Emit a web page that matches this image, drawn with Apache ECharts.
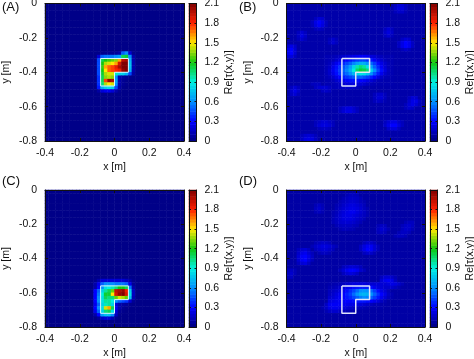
<!DOCTYPE html>
<html><head><meta charset="utf-8">
<script src="https://cdn.jsdelivr.net/npm/echarts@6/dist/echarts.min.js"></script>
<style>html,body{margin:0;padding:0;background:#fff}#c{width:474px;height:359px;filter:blur(0.45px)}</style>
</head><body><div id="c"></div>
<script>
const xTickRange=[-0.4,0.4], yTickRange=[-0.8,0], colorRange=[0,2.1];
const gridCells=40;
const colorStops=['#00007f','#0000ff','#0090ff','#00f0e0','#10c810','#ffe800','#ff2000','#7f0000'];
const colorbarLevels=[.025,.075,.125,.175,.225,.275,.325,.375,.425,.475,.525,.575,.625,.675,.725,.775,.825,.875,.925,.975,1.025,1.075,1.125,1.175,1.225,1.275,1.325,1.375,1.425,1.475,1.525,1.575,1.625,1.675,1.725,1.775,1.825,1.875,1.925,1.975,2.025,2.075];
// Each row: [row from top, first column, cell values]
const backgroundA=.02, backgroundB=.1, backgroundC=.02, backgroundD=.09;
const rowsA=[
[14,15,[.02,.03,.04,.05,.05,.06,.1,.5,.6,.2,.03]],
[15,15,[.2,.5,.55,.55,.55,.6,.65,1.1,1.15,.6,.1]],
[16,15,[.45,1.1,1.2,1.25,1.3,1.35,1.6,1.95,2.0,.7,.1]],
[17,15,[.45,1.2,1.4,1.45,1.5,1.6,1.9,2.1,2.1,.75,.1]],
[18,15,[.45,1.25,1.6,1.7,1.75,1.85,2.0,2.1,2.1,.75,.1]],
[19,15,[.45,1.2,1.5,1.7,1.75,1.8,1.85,2.05,2.1,.7,.1]],
[20,15,[.45,1.15,1.4,1.45,1.45,.95,.8,.8,.7,.45,.08]],
[21,15,[.4,1.1,1.35,1.4,1.35,.6,.1,.08,.05,.03,.02]],
[22,15,[.4,1.1,1.75,2.05,2.0,.65,.1,.05,.03]],
[23,15,[.4,1.05,1.4,1.5,1.45,.6,.1,.05,.03]],
[24,15,[.35,.7,.8,.85,.8,.45,.08,.03]],
[25,15,[.08,.2,.25,.25,.2,.1,.04]]];
const rowsC=[
[26,14,[.03,.1,.2,.2,.2,.2,.2,.2,.2,.15,.1,.03]],
[27,14,[.1,.25,.5,.6,.6,.6,.55,.55,.55,.5,.25,.05]],
[28,14,[.1,.3,.6,.85,.9,.95,1.05,1.2,1.2,1.1,.55,.1]],
[29,14,[.3,.5,.8,1.0,1.1,1.3,1.95,2.0,2.05,1.85,.8,.15]],
[30,14,[.3,.55,.9,1.15,1.15,1.5,1.9,2.05,2.1,1.9,.85,.15]],
[31,14,[.3,.6,.85,1.1,1.05,1.05,1.3,1.45,1.4,1.3,.75,.12]],
[32,14,[.3,.6,.85,1.0,1.0,.9,.6,.5,.45,.4,.2,.05]],
[33,14,[.25,.5,.8,.95,1.0,.8,.2,.1,.08,.06,.03,.02]],
[34,14,[.3,.6,.85,1.45,1.6,1.1,.25,.1,.05,.03]],
[35,14,[.25,.5,.8,1.05,1.1,.85,.2,.05,.03]],
[36,14,[.1,.3,.65,.75,.75,.6,.15,.03]],
[37,14,[.02,.06,.15,.2,.2,.12,.04]]];
const rowsB=[
[4,8,[.15,.2,.18]],[5,7,[.15,.24,.3,.24,.15]],[6,7,[.14,.22,.28,.22,.14]],[7,8,[.14,.16,.14]],
[8,3,[.15,.2,.15]],[9,3,[.16,.23,.17]],[10,3,[.14,.18,.14]],
[12,0,[.2,.24,.18]],[13,0,[.26,.3,.2]],[14,0,[.26,.3,.2]],[15,0,[.2,.22,.15]],
[10,33,[.16,.2,.18]],[11,32,[.16,.24,.3,.26,.16]],[12,32,[.16,.24,.3,.26,.16]],[13,33,[.14,.17,.14]],
[7,28,[.15,.2,.15]],[8,28,[.17,.22,.17]],[9,28,[.15,.19,.14]],
[0,31,[.15,.2,.2,.15]],[1,31,[.17,.22,.22,.16]],[2,31,[.14,.17,.17,.13]],
[10,12,[.14,.18,.14]],[11,12,[.15,.19,.15]],
[34,8,[.14,.17,.2,.2,.17,.14]],[35,8,[.15,.2,.22,.22,.2,.15]],[36,9,[.14,.16,.16,.14]],
[34,28,[.15,.2,.24,.24,.18,.14]],[35,28,[.17,.24,.3,.3,.22,.15]],[36,29,[.18,.22,.22,.16]],
[30,15,[.14,.18,.22,.22,.18,.14]],[31,15,[.15,.2,.24,.24,.2,.15]],
[38,4,[.14,.18,.2,.18,.14]],[39,4,[.16,.22,.24,.22,.16]],
[27,35,[.15,.2,.18]],[28,35,[.18,.24,.24,.16]],[29,34,[.14,.2,.24,.2,.14]],[30,34,[.14,.18,.16]],
[24,1,[.15,.2,.15]],[25,1,[.18,.24,.18]],[26,1,[.16,.2,.14]],
[26,25,[.14,.18,.18,.14]],[27,25,[.15,.2,.2,.15]],[28,25,[.14,.17,.15,.12]],
[23,7,[.14,.15,.15]],[24,8,[.16,.19,.2,.19,.16]],[25,10,[.15,.17,.15]],
[15,11,[.12,.12,.13,.14,.16,.18,.2,.22,.24,.26,.28,.28,.26,.22,.2,.16,.14,.12,.12,.12]],
[16,11,[.12,.13,.14,.18,.22,.26,.3,.34,.38,.42,.44,.44,.4,.34,.28,.22,.18,.14,.12,.12]],
[17,11,[.12,.14,.2,.26,.32,.38,.44,.5,.58,.66,.7,.7,.62,.52,.42,.32,.24,.18,.14,.12]],
[18,11,[.13,.16,.24,.32,.4,.46,.54,.64,.8,.98,1.05,1.0,.85,.66,.5,.38,.28,.2,.14,.12]],
[19,11,[.13,.18,.26,.34,.42,.5,.58,.7,.88,1.08,1.15,1.12,1.05,.82,.6,.44,.32,.22,.15,.12]],
[20,11,[.13,.17,.24,.32,.4,.46,.52,.6,.72,.82,.86,.84,.76,.62,.48,.36,.26,.18,.14,.12]],
[21,11,[.12,.14,.18,.24,.3,.36,.4,.44,.48,.5,.5,.46,.42,.36,.3,.22,.16,.13,.12,.11]],
[22,11,[.12,.12,.14,.18,.22,.26,.3,.32,.33,.32,.3,.28,.24,.2,.16,.13,.12,.11,.11,.11]],
[23,11,[.12,.12,.13,.14,.16,.19,.21,.22,.23,.22,.2,.18,.15,.13,.12,.11,.11,.11,.11,.11]],
[24,13,[.13,.14,.15,.16,.17,.17,.16,.14,.13]]];
const rowsD=[
[1,17,[.13,.15,.15,.14]],[2,16,[.13,.15,.17,.17,.16,.13]],[3,15,[.13,.15,.17,.19,.19,.17,.14,.12]],
[4,14,[.12,.14,.17,.2,.22,.22,.2,.17,.14]],[5,14,[.13,.16,.19,.22,.24,.24,.22,.19,.15,.12]],
[6,13,[.12,.14,.18,.21,.24,.26,.26,.22,.19,.16,.12]],[7,13,[.12,.15,.19,.22,.24,.24,.22,.2,.17,.15,.12]],
[8,13,[.13,.16,.19,.22,.23,.23,.21,.18,.16,.13]],[9,13,[.13,.15,.18,.19,.2,.19,.18,.15,.13]],
[10,14,[.13,.15,.16,.16,.16,.14,.13]],[11,15,[.12,.14,.14,.13,.12]],
[17,3,[.14,.18,.2,.16]],[18,3,[.17,.24,.26,.2,.14]],[19,3,[.2,.28,.3,.24,.16]],[20,3,[.19,.27,.3,.22,.14]],[21,3,[.15,.2,.22,.16]],
[15,8,[.13,.15,.17,.16,.14]],[16,7,[.13,.17,.2,.22,.22,.2,.16,.13]],[17,8,[.15,.18,.2,.2,.17,.14]],[18,9,[.13,.15,.15,.13]],
[15,22,[.14,.17,.17,.14]],[16,21,[.15,.22,.27,.27,.2,.14]],[17,21,[.16,.24,.3,.28,.2,.14]],[18,22,[.15,.18,.17,.13]],
[22,16,[.14,.17,.2,.2,.18,.14]],[23,15,[.14,.2,.26,.3,.3,.26,.18,.14]],[24,16,[.15,.2,.22,.2,.16]],
[25,27,[.15,.2,.2,.17,.13]],[26,27,[.2,.26,.28,.24,.15]],
[10,26,[.13,.16,.15]],[11,26,[.15,.19,.17,.13]],[12,26,[.14,.16,.14]],
[9,34,[.13,.15,.15]],[10,33,[.14,.17,.18,.15]],[11,33,[.15,.18,.17,.13]],[12,32,[.13,.16,.16,.14]],[13,31,[.13,.15,.15,.13]],
[4,8,[.13,.16,.13]],[5,8,[.15,.18,.14]],[6,8,[.13,.15,.12]],
[23,0,[.14,.16,.13]],[24,0,[.16,.18,.13]],[25,0,[.14,.15]],
[27,12,[.1,.11,.12,.13,.15,.18,.2,.22,.22,.22,.22,.2,.2,.2,.2,.2,.2,.22,.24,.22,.18,.13]],
[28,12,[.12,.13,.15,.18,.22,.26,.28,.32,.34,.36,.36,.36,.32,.26,.22,.2,.18,.18,.18,.15,.12]],
[29,12,[.14,.16,.18,.22,.26,.32,.38,.44,.52,.6,.62,.6,.52,.42,.32,.24,.2,.14]],
[30,12,[.15,.18,.22,.26,.3,.36,.42,.52,.62,.7,.72,.7,.62,.5,.4,.3,.24,.16,.12]],
[31,12,[.18,.2,.24,.28,.3,.34,.38,.44,.5,.56,.6,.58,.5,.42,.34,.26,.2,.14,.11]],
[32,12,[.22,.24,.26,.28,.28,.3,.3,.32,.34,.34,.34,.32,.3,.26,.22,.16,.12]],
[33,11,[.16,.26,.28,.28,.28,.26,.26,.24,.24,.22,.2,.18,.16,.14,.12,.12,.1,.1]],
[34,10,[.12,.16,.24,.26,.26,.24,.22,.2,.18,.16,.14,.13,.12,.11,.1,.1,.1,.1]],
[35,11,[.12,.16,.18,.18,.16,.14,.13,.12,.11]]];
// Building outline, in metres
const outlineX=[-0.08,0.08,0.08,0,0,-0.08,-0.08];
const outlineYUpper=[-0.32,-0.32,-0.40,-0.40,-0.48,-0.48,-0.32];
const outlineYLower=[-0.56,-0.56,-0.64,-0.64,-0.72,-0.72,-0.56];
const panelNames=['(A)','(B)','(C)','(D)'];
const xAxisTitle='x [m]', yAxisTitle='y [m]', colorbarTitle='Re[τ(x,y)]';

const font='"Liberation Sans",Arial,sans-serif', fs=10.5, black='#111';
const layout=[
 {left:45,top:3.5,w:139,h:137.5,cb:189,label:[2,1]},
 {left:286.5,top:3.5,w:138.5,h:137.5,cb:430,label:[239,1]},
 {left:45,top:190,w:139,h:137,cb:189,label:[2,175]},
 {left:286.5,top:190,w:138.5,h:137,cb:430,label:[239,175]}];
const sources=[[rowsA,backgroundA,outlineYUpper],[rowsB,backgroundB,outlineYUpper],[rowsC,backgroundC,outlineYLower],[rowsD,backgroundD,outlineYLower]];
const cellIdx=[]; for(let i=0;i<gridCells;i++) cellIdx.push(String(i));
const levelIdx=colorbarLevels.map((_,i)=>String(i));

function toCells(rows,bg){
  const m=[]; for(let r=0;r<gridCells;r++){m.push(new Array(gridCells).fill(bg));}
  rows.forEach(([r,c,vals])=>vals.forEach((v,i)=>{m[r][c+i]=v;}));
  const out=[]; m.forEach((row,r)=>row.forEach((v,c)=>out.push([c,r,v])));
  return out;
}
const line={show:true,onZero:false,lineStyle:{color:black,width:1}};
const grid=[],xAxis=[],yAxis=[],series=[],graphic=[],hm=[];
layout.forEach((p,i)=>{
  const g=grid.length;
  grid.push({left:p.left,top:p.top,width:p.w,height:p.h,containLabel:false,outerBoundsMode:'none'});
  grid.push({left:p.cb,top:p.top,width:7.5,height:p.h,outerBoundsMode:'none'});
  const xv=xAxis.length;
  xAxis.push({gridIndex:g,type:'value',position:'bottom',min:xTickRange[0],max:xTickRange[1],interval:0.2,z:5,
    name:xAxisTitle,nameLocation:'middle',nameGap:21,nameTextStyle:{fontFamily:font,fontSize:fs,color:black},
    axisLine:line,axisTick:{show:true,inside:true,length:3,lineStyle:{color:black}},splitLine:{show:false},
    axisLabel:{fontFamily:font,fontSize:fs,color:black,margin:7,hideOverlap:false,showMinLabel:true,showMaxLabel:true}});
  xAxis.push({gridIndex:g,type:'category',position:'top',data:cellIdx,z:5,axisLine:line,
    axisTick:{show:true,inside:true,length:3,interval:9,lineStyle:{color:black}},axisLabel:{show:false},splitLine:{show:false}});
  const yv=yAxis.length;
  yAxis.push({gridIndex:g,type:'value',position:'left',min:yTickRange[0],max:yTickRange[1],interval:0.2,z:5,
    name:yAxisTitle,nameLocation:'middle',nameGap:33,nameTextStyle:{fontFamily:font,fontSize:fs,color:black},
    axisLine:line,axisTick:{show:true,inside:true,length:3,lineStyle:{color:black}},splitLine:{show:false},
    axisLabel:{fontFamily:font,fontSize:fs,color:black,margin:8,showMinLabel:true,showMaxLabel:true}});
  yAxis.push({gridIndex:g,type:'category',position:'right',inverse:true,data:cellIdx,z:5,axisLine:line,
    axisTick:{show:true,inside:true,length:3,interval:9,lineStyle:{color:black}},axisLabel:{show:false},splitLine:{show:false}});
  const xc=xAxis.length;
  xAxis.push({gridIndex:g+1,type:'category',position:'bottom',data:['0'],z:5,axisLine:line,axisTick:{show:false},axisLabel:{show:false},splitLine:{show:false}});
  xAxis.push({gridIndex:g+1,type:'category',position:'top',data:['0'],z:5,axisLine:line,axisTick:{show:false},axisLabel:{show:false},splitLine:{show:false}});
  const yc=yAxis.length;
  yAxis.push({gridIndex:g+1,type:'category',position:'left',data:levelIdx,z:5,axisLine:line,
    axisTick:{show:true,inside:true,length:2,interval:5,lineStyle:{color:black}},axisLabel:{show:false},splitLine:{show:false}});
  yAxis.push({gridIndex:g+1,type:'value',position:'right',min:colorRange[0],max:colorRange[1],interval:0.3,z:5,
    name:colorbarTitle,nameLocation:'middle',nameGap:27,nameTextStyle:{fontFamily:font,fontSize:fs,color:black},
    axisLine:line,axisTick:{show:true,inside:true,length:2,lineStyle:{color:black}},splitLine:{show:false},
    axisLabel:{fontFamily:font,fontSize:fs,color:black,margin:8,showMinLabel:true,showMaxLabel:true}});
  const [rows,bg,oy]=sources[i];
  hm.push(series.length);
  series.push({type:'heatmap',xAxisIndex:xv+1,yAxisIndex:yv+1,data:toCells(rows,bg),progressive:0,animation:false,silent:true,z:2});
  hm.push(series.length);
  series.push({type:'heatmap',xAxisIndex:xc,yAxisIndex:yc,data:colorbarLevels.map((v,k)=>[0,k,v]),progressive:0,animation:false,silent:true,z:2});
  series.push({type:'line',xAxisIndex:xv,yAxisIndex:yv,data:outlineX.map((x,k)=>[x,oy[k]]),showSymbol:false,symbol:'none',silent:true,z:3,animation:false,
    lineStyle:{color:(i%2)?'#dfe3fb':'#d8f4ff',width:(i%2)?1.5:1},clip:false});
  graphic.push({type:'text',left:p.label[0],top:p.label[1],silent:true,style:{text:panelNames[i],fontFamily:font,fontSize:13,fill:black}});
});
const chart=echarts.init(document.getElementById('c'),null,{renderer:'canvas',width:474,height:359});
chart.setOption({backgroundColor:'#fff',animation:false,grid,xAxis,yAxis,series,graphic,
  visualMap:[{show:false,type:'continuous',min:colorRange[0],max:colorRange[1],dimension:2,seriesIndex:hm,inRange:{color:colorStops}}]});
</script></body></html>
